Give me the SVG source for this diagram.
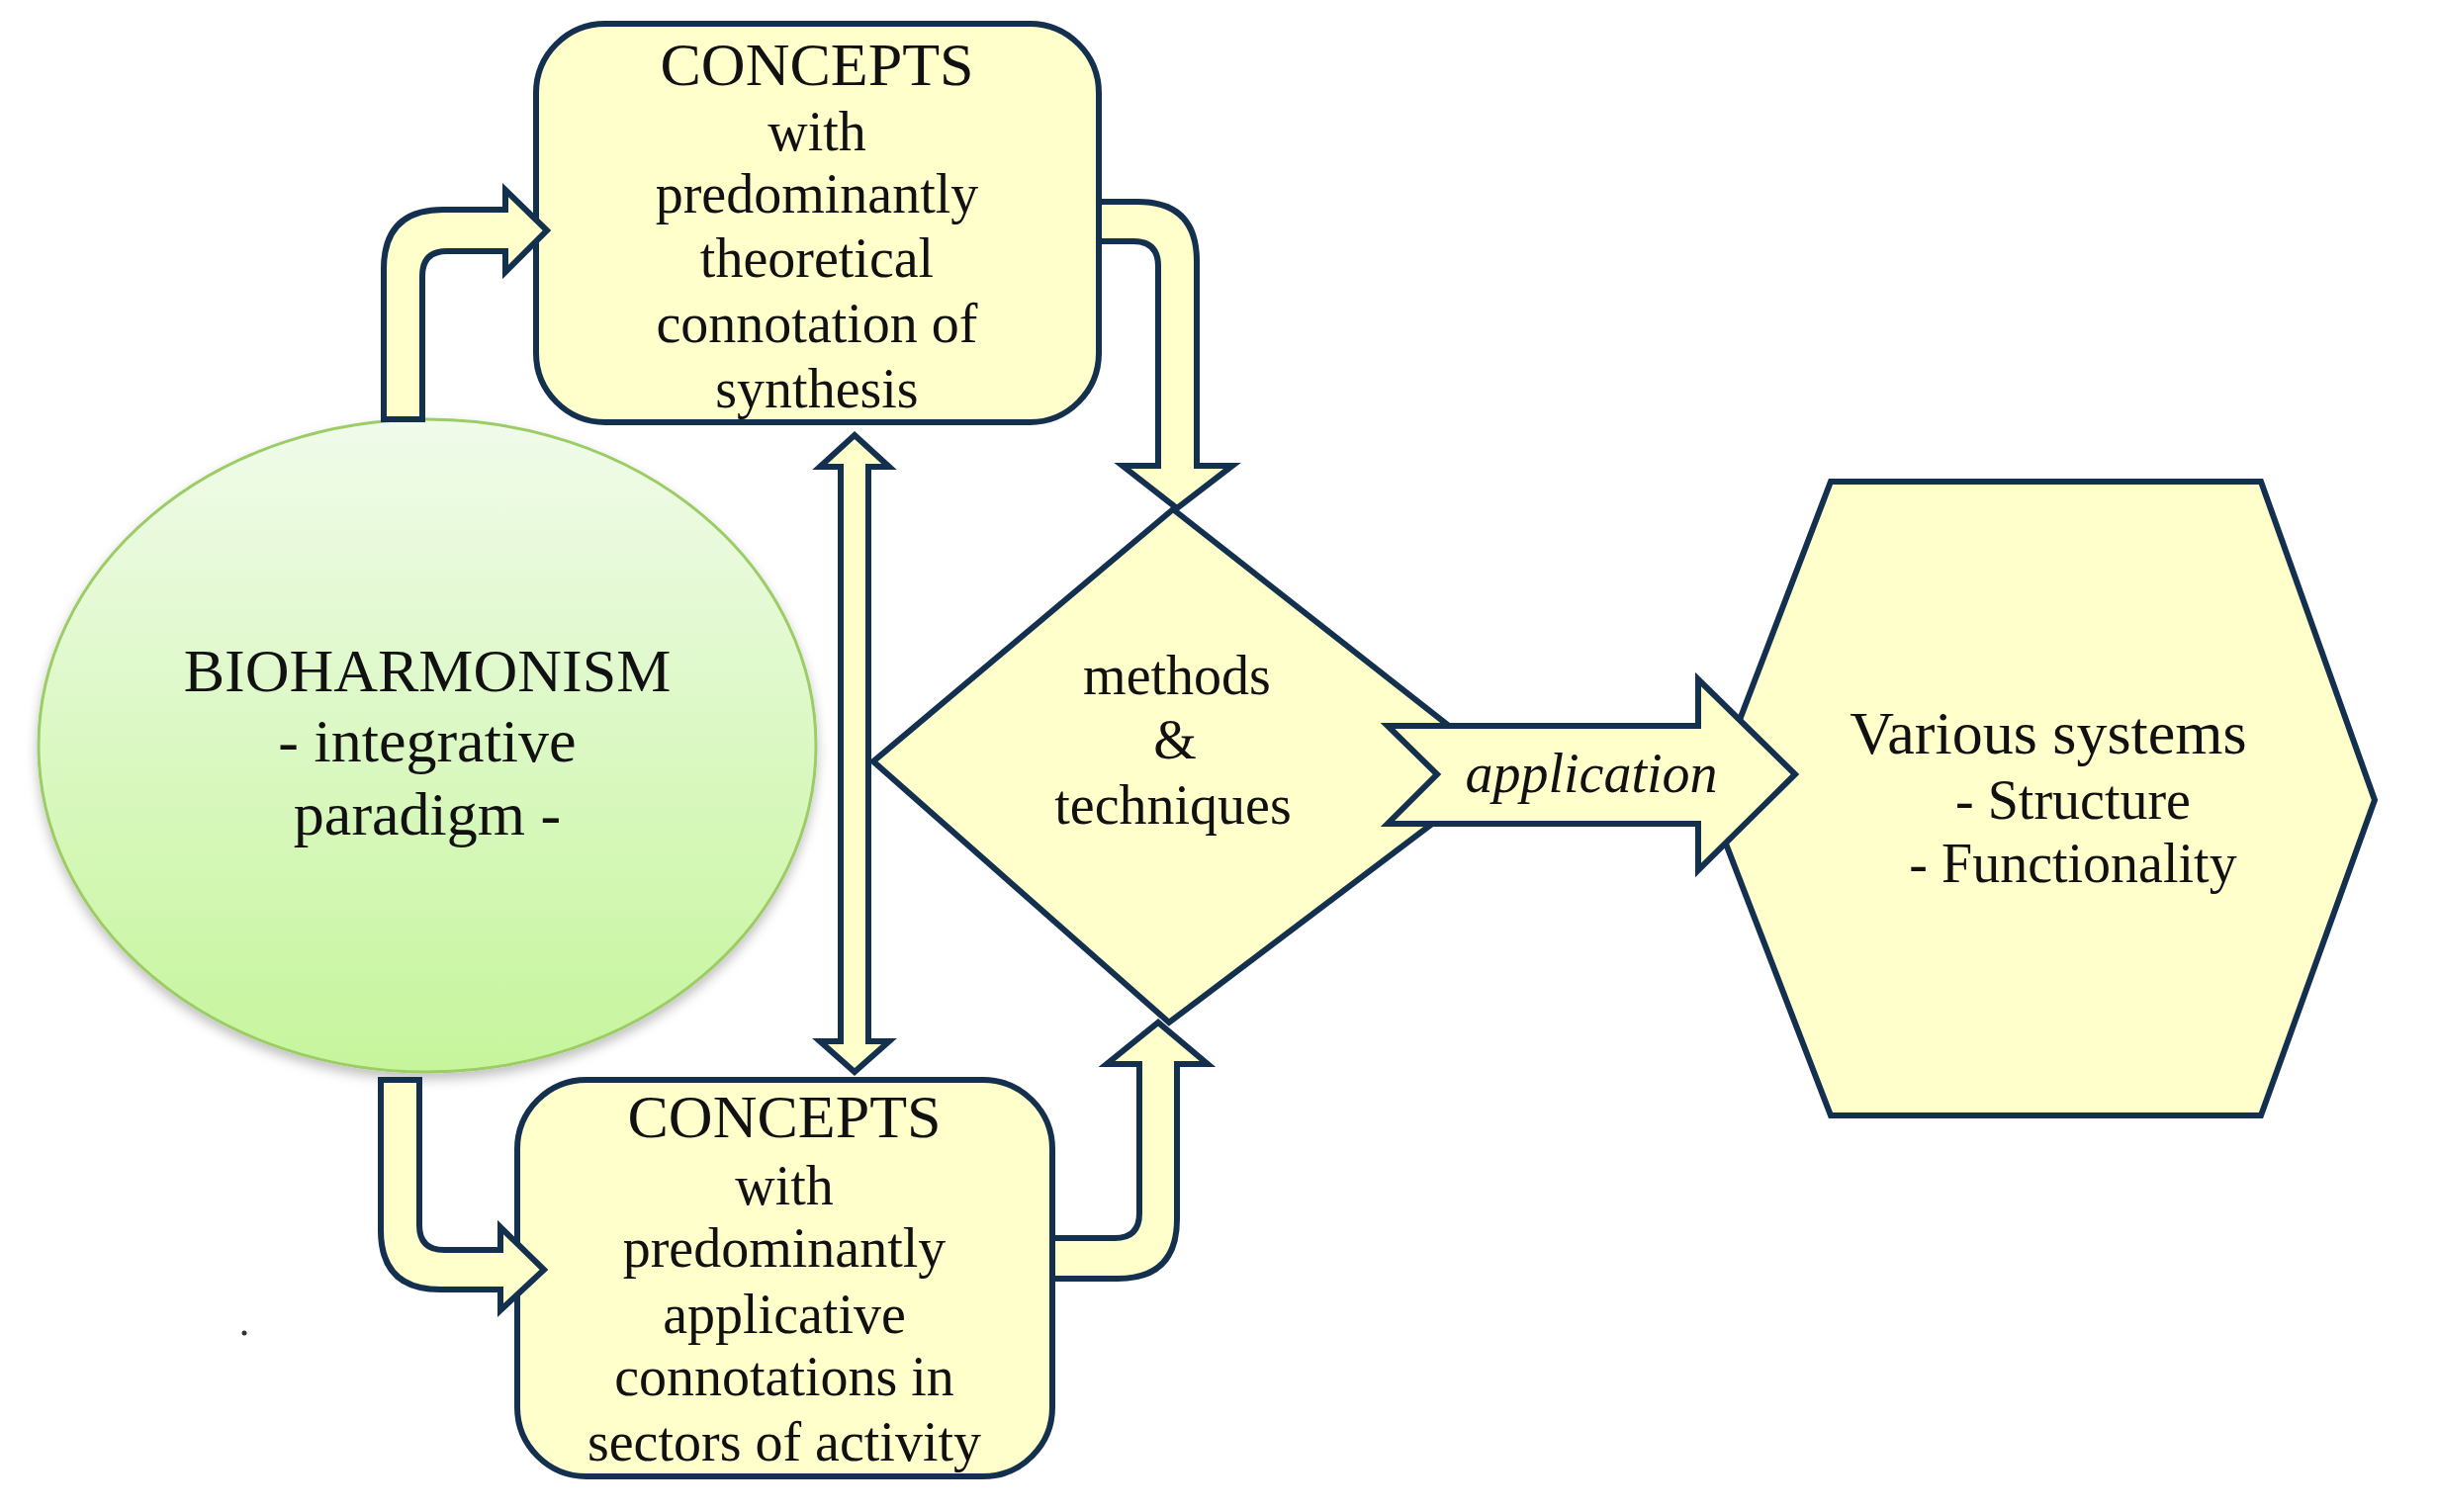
<svg xmlns="http://www.w3.org/2000/svg" width="2464" height="1529" viewBox="0 0 2464 1529">
<defs>
<linearGradient id="g" x1="0" y1="0" x2="0" y2="1"><stop offset="0" stop-color="#f0fbea"/><stop offset="1" stop-color="#c6f59c"/></linearGradient>
<filter id="sh" x="-10%" y="-10%" width="120%" height="120%"><feDropShadow dx="0" dy="6" stdDeviation="6" flood-color="#000" flood-opacity="0.25"/></filter>
<style>
.s{fill:#ffffcc;stroke:#14304f;stroke-width:6;stroke-linejoin:miter}
.t{font-family:"Liberation Serif","DejaVu Serif",serif;fill:#111;text-anchor:middle;font-size:56px}
</style>
</defs>
<rect width="2464" height="1529" fill="#fff"/>
<g id="bioharmonism">
<ellipse cx="432" cy="754" rx="393" ry="330" fill="url(#g)" stroke="#9ccc65" stroke-width="3" filter="url(#sh)"/>
<text class="t" style="font-size:62px"><tspan x="432" y="699">BIOHARMONISM</tspan><tspan x="432" y="770">- integrative</tspan><tspan x="432" y="844">paradigm -</tspan></text>
</g>
<g id="concepts-theoretical">
<rect class="s" x="542" y="24" width="569" height="403" rx="70"/>
<text class="t"><tspan x="826" y="86" style="font-size:62px">CONCEPTS</tspan><tspan x="826" y="152">with</tspan><tspan x="826" y="215">predominantly</tspan><tspan x="826" y="280">theoretical</tspan><tspan x="826" y="346">connotation of</tspan><tspan x="826" y="412">synthesis</tspan></text>
</g>
<g id="concepts-applicative">
<rect class="s" x="523" y="1092" width="541" height="401" rx="70"/>
<text class="t"><tspan x="793" y="1150" style="font-size:62px">CONCEPTS</tspan><tspan x="793" y="1218">with</tspan><tspan x="793" y="1281">predominantly</tspan><tspan x="793" y="1348">applicative</tspan><tspan x="793" y="1411">connotations in</tspan><tspan x="793" y="1477">sectors of activity</tspan></text>
</g>
<g id="methods">
<polygon class="s" points="1186,515 1521,778 1182,1034 883,770"/>
<text class="t"><tspan x="1190" y="702">methods</tspan><tspan x="1188" y="767">&amp;</tspan><tspan x="1186" y="833">techniques</tspan></text>
</g>
<g id="systems">
<polygon class="s" points="1851,487 2286,487 2401,809 2286,1128 1851,1128 1728,809"/>
<text class="t"><tspan x="2071" y="762" style="font-size:62px">Various systems</tspan><tspan x="2096" y="828">- Structure</tspan><tspan x="2096" y="892">- Functionality</tspan></text>
</g>
<g id="connectors">
<path class="s" d="M388,424 L388,272 Q388,212 448,212 L511,212 L511,192 L553,233 L511,275 L511,254 L452,254 Q427,254 427,279 L427,424 Z"/>
<path class="s" d="M1111,204 L1150,204 Q1210,204 1210,264 L1210,471 L1246,471 L1190,514 L1135,471 L1171,471 L1171,269 Q1171,244 1146,244 L1111,244 Z"/>
<path class="s" d="M385,1092 L385,1244 Q385,1304 445,1304 L506,1304 L506,1325 L550,1284 L506,1241 L506,1264 L449,1264 Q424,1264 424,1239 L424,1092 Z"/>
<path class="s" d="M1064,1252 L1127,1252 Q1152,1252 1152,1227 L1152,1076 L1119,1076 L1171,1034 L1221,1076 L1190,1076 L1190,1233 Q1190,1293 1130,1293 L1064,1293 Z"/>
<path class="s" d="M864,440 L899,472 L878,472 L878,1053 L899,1053 L864,1084 L829,1053 L850,1053 L850,472 L829,472 Z"/>
<path class="s" d="M1403,734 L1717,734 L1717,687 L1815,783 L1717,880 L1717,833 L1403,833 L1453,783 Z"/>
<text class="t" x="1609" y="801" style="font-style:italic">application</text>
</g>
<circle cx="247" cy="1348" r="2.5" fill="#333"/>
</svg>
